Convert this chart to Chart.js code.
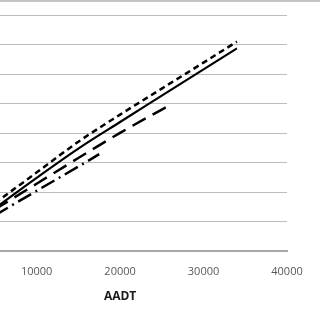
<!DOCTYPE html>
<html>
<head>
<meta charset="utf-8">
<script src="https://cdn.jsdelivr.net/npm/chart.js@4.4.0/dist/chart.umd.min.js"></script>
<style>
  html, body { margin: 0; padding: 0; background: #fff; }
  body { width: 320px; height: 320px; overflow: hidden; position: relative; }
  .topbar { position: absolute; left: 0; top: 0; width: 320px; height: 2px; background: #c4c4c4; }
  .wrap { position: absolute; left: -64px; top: 0; width: 384px; height: 320px; }
</style>
</head>
<body>
<div class="topbar"></div>
<div class="wrap"><canvas id="chart" width="384" height="320"></canvas></div>
<script>
// AADT values (x) and model outputs (y)
const aadtA = [5000, 10000, 15000, 20000, 25000, 30000, 34000];
const modelA = [1.63, 2.67, 3.71, 4.63, 5.51, 6.39, 7.10];   // short dash
const aadtB = [5000, 10000, 15000, 20000, 25000, 30000, 34000];
const modelB = [1.46, 2.49, 3.48, 4.38, 5.27, 6.16, 6.87];   // solid
const aadtC = [5000, 10000, 15000, 20000, 25000, 26000];
const modelC = [1.42, 2.29, 3.16, 4.01, 4.80, 4.95];         // long dash
const aadtD = [5000, 10000, 15000, 17500];
const modelD = [1.22, 2.05, 2.87, 3.29];                     // dash dot

const xTicks = [0, 10000, 20000, 30000, 40000];

function pts(xs, ys) {
    return xs.map((x, i) => ({ x: x, y: ys[i] }));
}

function serie(label, xs, ys, dash, width) {
    return {
        label: label,
        data: pts(xs, ys),
        borderColor: '#000',
        borderWidth: width,
        borderDash: dash,
        pointRadius: 0,
        fill: false,
        cubicInterpolationMode: 'monotone'
    };
}

new Chart(document.getElementById('chart').getContext('2d'), {
    type: 'line',
    data: {
        datasets: [
            serie('Model 1', aadtA, modelA, [6, 4], 2.5),
            serie('Model 2', aadtB, modelB, [], 2.2),
            serie('Model 3', aadtC, modelC, [15, 8], 2.5),
            serie('Model 4', aadtD, modelD, [15, 5, 2, 5], 2.5)
        ]
    },
    options: {
        responsive: false,
        animation: false,
        layout: { padding: { left: 11, right: 33, top: 15, bottom: 13 } },
        plugins: { legend: { display: false }, tooltip: { enabled: false } },
        scales: {
            x: {
                type: 'linear',
                min: 0,
                max: 40000,
                afterBuildTicks: axis => { axis.ticks = xTicks.map(v => ({ value: v })); },
                grid: { display: false, drawTicks: false },
                border: { color: '#a8a8a8', width: 2 },
                ticks: {
                    padding: 14,
                    color: '#595959',
                    font: { family: 'Open Sans', size: 11 },
                    callback: v => String(v)
                },
                title: {
                    display: true,
                    text: 'AADT',
                    color: '#1a1a1a',
                    font: { family: 'Open Sans', size: 12, weight: 'bold' },
                    padding: { top: -3, bottom: 3 }
                }
            },
            y: {
                min: 0,
                max: 8,
                ticks: { display: false, stepSize: 1 },
                grid: { color: '#bdbdbd', lineWidth: 1, drawTicks: false },
                border: { display: false }
            }
        }
    }
});
</script>
</body>
</html>
